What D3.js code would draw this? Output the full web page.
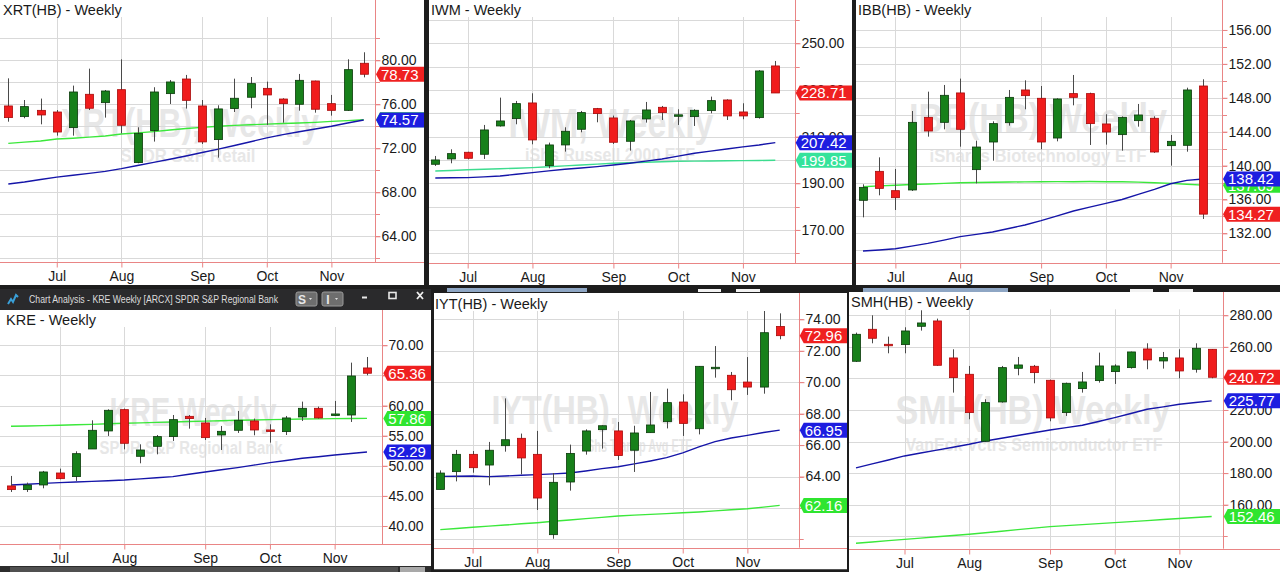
<!DOCTYPE html>
<html><head><meta charset="utf-8">
<script src="https://cdn.jsdelivr.net/npm/d3@7"></script>
<style>
html,body{margin:0;padding:0;background:#1d1d1d;}
svg{display:block;font-family:"Liberation Sans",Arial,sans-serif;}
</style>
</head><body>
<svg id="c" width="1280" height="572"></svg>
<script>
// ---------------- DATA ----------------
const monthNames = ["Jul", "Aug", "Sep", "Oct", "Nov"];
const monthIdx23 = [3, 7, 12, 16, 20];
const monthIdx22 = [2, 6, 11, 15, 19];

// [open, high, low, close]
const xrtOHLC = [
 [75.85,78.36,74.42,74.79],[74.88,76.39,74.73,75.79],[75.45,76.52,74.18,75.03],[75.30,75.48,73.15,73.48],
 [73.88,77.70,73.15,77.12],[76.91,79.24,75.48,75.64],[76.15,77.30,74.79,77.21],[77.33,80.09,73.36,74.09],
 [70.70,73.91,70.64,73.36],[73.61,77.55,72.61,77.12],[76.97,78.21,76.03,78.03],[78.30,78.67,75.61,76.36],
 [75.85,76.39,72.39,72.58],[72.79,75.91,71.15,75.58],[75.61,78.33,75.30,76.55],[76.64,78.48,75.64,77.88],
 [77.45,78.06,74.12,76.85],[76.48,76.55,74.33,76.06],[76.00,78.76,75.42,78.18],[78.12,78.15,75.24,75.55],
 [76.06,76.85,74.97,75.45],[75.45,80.09,75.39,79.15],[79.73,80.73,78.45,78.73]];
const xrtBlue = [68.76,68.94,69.16,69.38,69.55,69.72,69.9,70.15,70.44,70.72,71.0,71.3,71.62,71.92,72.25,72.6,72.95,73.24,73.5,73.76,74.0,74.3,74.57];
const xrtGreen = [72.45,72.56,72.66,72.85,72.92,73.02,73.12,73.3,73.4,73.52,73.66,73.8,73.9,74.0,74.08,74.14,74.2,74.26,74.3,74.36,74.45,74.52,74.6];

const iwmOHLC = [
 [198.14,201.71,197.43,200.0],[200.43,204.57,198.57,202.71],[203.29,203.5,200.29,200.71],[202.43,215.0,200.43,212.86],
 [214.57,226.71,214.3,216.71],[217.71,225.29,215.29,224.14],[224.43,228.57,206.71,208.57],[197.57,207.43,196.43,206.43],
 [206.43,214.0,203.57,212.29],[213.14,221.0,211.86,220.29],[222.0,222.29,216.14,219.86],[218.0,219.0,206.86,207.57],
 [208.0,217.14,204.0,216.71],[217.57,224.86,216.0,221.43],[222.57,223.14,217.14,220.29],[219.2,221.71,215.0,219.35],
 [218.57,221.71,214.57,221.29],[221.14,227.14,220.0,225.43],[225.71,226.0,217.14,218.86],[220.57,224.29,217.43,218.86],
 [218.14,238.5,217.71,238.14],[240.29,242.43,228.71,228.71]];
const iwmBlue = [192.29,192.35,192.43,192.75,193.14,193.84,194.57,195.3,196.0,196.56,197.14,197.86,198.57,199.5,200.43,201.62,202.86,203.8,204.71,205.6,206.43,207.42];
const iwmGreen = [195.29,195.5,195.78,196.0,196.25,196.46,196.71,197.1,197.44,197.84,198.2,198.57,198.8,199.0,199.22,199.43,199.5,199.58,199.64,199.7,199.78,199.85];

const ibbOHLC = [
 [135.90,137.79,133.89,137.43],[139.32,140.97,136.49,137.31],[137.04,139.60,134.76,136.21],[137.12,146.44,137.0,145.10],
 [145.69,148.72,143.41,144.08],[145.10,149.51,144.28,148.29],[148.57,150.26,142.23,144.28],[139.52,142.94,137.90,142.19],
 [142.78,145.22,140.58,144.95],[145.06,148.92,144.71,148.05],[148.92,150.06,146.64,148.25],[147.94,149.39,141.92,142.78],
 [143.25,147.94,142.86,147.86],[148.49,150.69,147.11,148.05],[148.49,148.6,142.43,144.95],[144.91,146.05,142.47,143.96],
 [143.65,145.8,141.76,145.69],[145.30,147.27,144.59,145.97],[145.58,145.81,141.5,141.60],[142.35,143.61,139.99,142.86],
 [142.39,149.19,141.64,148.92],[149.39,150.18,133.70,134.27]];
const ibbBlue = [129.92,130.04,130.19,130.5,130.82,131.2,131.61,131.88,132.16,132.58,132.99,133.5,134.07,134.64,135.1,135.54,136.0,136.6,137.2,137.85,138.25,138.42];
const ibbGreen = [137.51,137.6,137.67,137.76,137.83,137.9,137.98,138.0,138.03,138.06,138.08,138.1,138.11,138.1,138.12,138.1,138.1,138.05,137.98,137.9,137.8,137.69];

const kreOHLC = [
 [46.65,48.31,45.65,46.04],[46.04,47.20,45.65,46.81],[46.81,49.14,46.26,48.97],[48.80,49.52,47.75,47.86],
 [48.20,52.40,47.48,52.01],[52.79,57.55,52.79,55.89],[55.78,59.37,54.95,59.21],[59.32,59.49,52.73,53.73],
 [51.57,53.56,50.41,52.62],[53.23,55.11,51.90,54.84],[54.84,58.43,54.12,57.66],[58.21,58.43,56.16,57.83],
 [57.11,57.94,54.28,54.67],[55.11,56.61,52.62,55.72],[55.89,59.10,55.45,57.55],[57.44,57.83,55.06,55.94],
 [55.95,56.88,53.84,55.85],[55.67,58.27,55.11,57.94],[58.10,60.65,57.44,59.54],[59.54,59.82,57.83,57.94],
 [58.5,60.76,58.27,58.6],[58.43,67.12,57.27,64.91],[66.24,68.06,65.02,65.36]];
const kreBlue = [46.81,46.93,47.07,47.2,47.3,47.41,47.52,47.64,47.82,48.0,48.2,48.58,48.97,49.33,49.69,50.1,50.52,50.88,51.24,51.5,51.79,52.04,52.29];
const kreGreen = [56.55,56.6,56.66,56.72,56.8,56.88,56.97,57.05,57.12,57.2,57.27,57.34,57.41,57.48,57.55,57.6,57.66,57.71,57.77,57.79,57.82,57.84,57.86];

const iytOHLC = [
 [63.18,64.39,63.18,64.22],[64.31,65.69,63.69,65.41],[65.41,65.62,64.24,64.56],[64.73,66.20,63.44,65.67],
 [65.96,68.97,65.58,66.34],[66.43,66.73,64.14,65.18],[65.41,66.90,61.87,62.63],[60.30,64.22,60.04,63.63],
 [63.65,66.03,63.10,65.47],[65.62,67.00,65.39,66.90],[66.98,67.25,65.77,67.23],[66.90,67.47,65.05,65.33],
 [65.67,67.23,64.29,66.77],[66.79,69.38,66.79,67.28],[67.49,69.59,67.06,68.70],[68.74,69.23,66.58,67.38],
 [67.04,71.03,66.68,71.01],[70.9,72.30,70.29,70.95],[70.44,70.65,68.85,69.52],[70.01,71.60,69.19,69.69],
 [69.69,74.53,69.27,73.15],[73.55,74.38,72.73,72.96]];
const iytBlue = [64.01,64.02,64.03,63.99,64.03,64.08,64.12,64.17,64.22,64.35,64.5,64.62,64.8,64.99,65.2,65.5,65.88,66.22,66.45,66.62,66.8,66.95];
const iytGreen = [60.62,60.69,60.77,60.84,60.91,60.99,61.06,61.15,61.23,61.32,61.4,61.49,61.54,61.59,61.64,61.69,61.74,61.81,61.88,61.95,62.05,62.16];

const smhOHLC = [
 [250.86,269.02,250.43,267.96],[271.13,280.0,262.26,265.43],[261.63,266.48,255.92,260.78],[261.42,272.40,255.92,270.07],
 [273.03,283.17,270.29,275.14],[276.41,277.89,248.0,248.32],[252.97,258.46,231.0,240.51],[242.62,247.90,214.11,218.33],
 [200.17,226.78,199.8,224.67],[225.09,247.90,224.67,246.84],[246.42,253.60,241.99,248.53],[247.69,248.53,236.92,243.67],
 [238.82,239.2,212.84,214.95],[218.33,237.34,216.22,236.92],[233.54,244.10,231.0,237.76],[238.61,256.35,237.34,247.90],
 [244.31,248.95,236.5,247.90],[246.84,256.98,246.21,256.77],[258.67,262.26,245.79,251.70],[251.07,256.77,246.21,253.18],
 [252.97,258.46,240.08,244.73],[245.79,262.26,243.67,259.09],[258.46,258.6,240.1,240.72]];
const smhBlue = [183.27,185.8,188.33,190.87,192.72,194.57,196.42,198.27,200.38,202.12,203.86,205.6,207.35,208.8,210.3,212.7,215.16,217.8,220.44,222.0,223.61,224.7,225.77];
const smhGreen = [135.55,136.36,137.18,137.99,138.8,139.62,140.43,141.25,142.22,143.19,144.16,145.13,146.1,146.72,147.35,147.97,148.6,149.25,149.9,150.55,151.2,151.83,152.46];

// ---------------- LAYOUT ----------------
const panels = [
 {title:"XRT(HB) - Weekly", wm:"XRT(HB), Weekly", sub:"SPDR S&P Retail",
  ohlc:xrtOHLC, blue:xrtBlue, green:xrtGreen, months:monthIdx23,
  box:[0,0,424,285], top:17, bottom:262, axisX:375, yDom:[61.664,83.936],
  grid:[62,84,2], labs:[64,81,4], firstX:8.3, lastX:363.7, titleXY:[3,15],
  wmXY:[190,137,258], subXY:[188,162,135], maColor:"#3be83b", maBox:"#2fe52f"},
 {title:"IWM - Weekly", wm:"IWM, Weekly", sub:"iShs Russell 2000 ETF",
  ohlc:iwmOHLC, blue:iwmBlue, green:iwmGreen, months:monthIdx22,
  box:[429,0,423,285], top:17, bottom:263.3, axisX:794.7, yDom:[155.70,261.27],
  grid:[160,261,10], labs:[170,251,20], firstX:435.3, lastX:775.3, titleXY:[431,15],
  wmXY:[611,137,205], subXY:[610,161,170], maColor:"#3ddc8f", maBox:"#35e39b"},
 {title:"IBB(HB) - Weekly", wm:"IBB(HB) Weekly", sub:"iShares Biotechnology ETF",
  ohlc:ibbOHLC, blue:ibbBlue, green:ibbGreen, months:monthIdx22,
  box:[856,0,424,285], top:17, bottom:262.7, axisX:1222, yDom:[128.54,157.53],
  grid:[130,157,2], labs:[132,157,4], firstX:863, lastX:1203, titleXY:[858,15],
  wmXY:[1038,132,258], subXY:[1038,162,217], maColor:"#3be83b", maBox:"#2fe52f"},
 {title:"KRE - Weekly", wm:"KRE,Weekly", sub:"SPDR S&P Regional Bank",
  ohlc:kreOHLC, blue:kreBlue, green:kreGreen, months:monthIdx23,
  box:[0,310,431,256], top:327, bottom:544.3, axisX:382.3, yDom:[36.96,73.04],
  grid:[40,71,5], labs:[40,71,5], firstX:11, lastX:367, titleXY:[6,325],
  wmXY:[193,426,167], subXY:[191,454,183], maColor:"#3be83b", maBox:"#2fe52f"},
 {title:"IYT(HB) - Weekly", wm:"IYT(HB), Weekly", sub:"iShs Transp Avg ETF",
  ohlc:iytOHLC, blue:iytBlue, green:iytGreen, months:monthIdx22,
  box:[434,293,413,276.5], top:311, bottom:547.7, axisX:798.7, yDom:[59.47,74.53],
  grid:[60,75,2], labs:[62,75,2], firstX:440.3, lastX:779.7, titleXY:[435,309],
  wmXY:[615,424,247], subXY:[638,452,108], maColor:"#3be83b", maBox:"#2fe52f"},
 {title:"SMH(HB) - Weekly", wm:"SMH(HB) Weekly", sub:"VanEck Vctrs Semiconductor ETF",
  ohlc:smhOHLC, blue:smhBlue, green:smhGreen, months:monthIdx23,
  box:[849,292,431,280], top:309.3, bottom:548.7, axisX:1222.7, yDom:[132.09,283.8],
  grid:[140,281,20], labs:[160,281,20], firstX:856, lastX:1211.7, titleXY:[851,307],
  wmXY:[1033,424,275], subXY:[1034,451,257], maColor:"#3be83b", maBox:"#2fe52f"}
];

const COL = {red:"#f01c1c", redStroke:"#a80a0a", green:"#17801a", greenStroke:"#0b3a0b",
  wick:"#4a4a4a", blue:"#1515a8", blueBox:"#1d1de0", redBox:"#ef2020",
  axis:"#e98585", grid:"#d9d9d9", text:"#1a1a1a", wm:"#e7e7e7"};

const svg = d3.select("#c");
svg.append("rect").attr("width",1280).attr("height",572).attr("fill","#1d1d1d");

const defs = svg.append("defs");

panels.forEach((p, pi) => {
  const [bx, by, bw, bh] = p.box;
  const n = p.ohlc.length;
  const x = d3.scaleLinear().domain([0, n-1]).range([p.firstX, p.lastX]);
  const y = d3.scaleLinear().domain(p.yDom).range([p.bottom, p.top]);

  defs.append("clipPath").attr("id","clipP"+pi).append("rect").attr("x",bx).attr("y",by).attr("width",bw).attr("height",bh);
  defs.append("clipPath").attr("id","clipA"+pi).append("rect").attr("x",bx).attr("y",by).attr("width",p.axisX-bx).attr("height",p.bottom-by);

  const g = svg.append("g").attr("clip-path","url(#clipP"+pi+")");
  g.append("rect").attr("x",bx).attr("y",by).attr("width",bw).attr("height",bh).attr("fill","#fff");

  // watermark
  g.append("text").attr("x",p.wmXY[0]).attr("y",p.wmXY[1]).attr("text-anchor","middle")
    .attr("font-size",40).attr("font-weight","bold").attr("fill",COL.wm)
    .attr("textLength",p.wmXY[2]).attr("lengthAdjust","spacingAndGlyphs").text(p.wm);
  g.append("text").attr("x",p.subXY[0]).attr("y",p.subXY[1]).attr("text-anchor","middle")
    .attr("font-size",18).attr("font-weight","bold").attr("fill",COL.wm)
    .attr("textLength",p.subXY[2]).attr("lengthAdjust","spacingAndGlyphs").text(p.sub);

  // horizontal grid
  const gridVals = d3.range(p.grid[0], p.grid[1], p.grid[2]);
  g.selectAll("line.hg").data(gridVals).join("line").attr("class","hg")
    .attr("x1",bx).attr("x2",p.axisX).attr("y1",d=>Math.round(y(d))+0.5).attr("y2",d=>Math.round(y(d))+0.5)
    .attr("stroke",COL.grid).attr("stroke-width",1);
  // vertical month grid
  g.selectAll("line.vg").data(p.months).join("line").attr("class","vg")
    .attr("x1",d=>Math.round(x(d))+0.5).attr("x2",d=>Math.round(x(d))+0.5)
    .attr("y1",p.top).attr("y2",p.bottom).attr("stroke",COL.grid).attr("stroke-width",1);

  // axes lines
  g.append("line").attr("x1",Math.round(p.axisX)+0.5).attr("x2",Math.round(p.axisX)+0.5)
    .attr("y1",by).attr("y2",p.bottom).attr("stroke",COL.axis);
  g.append("line").attr("x1",bx).attr("x2",bx+bw).attr("y1",Math.round(p.bottom)+0.5).attr("y2",Math.round(p.bottom)+0.5)
    .attr("stroke",COL.axis);

  // right axis labels
  const ay = g.append("g").attr("transform",`translate(${Math.round(p.axisX)+0.5},0)`)
    .call(d3.axisRight(y).tickValues(d3.range(p.labs[0], p.labs[1], p.labs[2])).tickSize(5).tickPadding(1).tickFormat(d3.format(".2f")));
  ay.select(".domain").remove();
  ay.selectAll("line").attr("stroke",COL.axis);
  ay.selectAll("text").attr("font-size",14).attr("font-family","Liberation Sans, Arial, sans-serif").attr("fill",COL.text);
  // extra minor ticks for unlabeled gridlines
  g.selectAll("line.mt").data(gridVals).join("line").attr("class","mt")
    .attr("x1",p.axisX).attr("x2",p.axisX+5).attr("y1",d=>Math.round(y(d))+0.5).attr("y2",d=>Math.round(y(d))+0.5)
    .attr("stroke",COL.axis);

  // bottom axis months
  const ax = g.append("g").attr("transform",`translate(0,${Math.round(p.bottom)+0.5})`)
    .call(d3.axisBottom(x).tickValues(p.months).tickSize(5).tickPadding(4).tickFormat((d,i)=>monthNames[i]));
  ax.select(".domain").remove();
  ax.selectAll("line").attr("stroke",COL.axis);
  ax.selectAll("text").attr("font-size",14).attr("font-family","Liberation Sans, Arial, sans-serif").attr("fill",COL.text);

  // title
  g.append("text").attr("x",p.titleXY[0]).attr("y",p.titleXY[1]).attr("font-size",14.5).attr("fill",COL.text).text(p.title);

  // plot content clipped
  const pg = g.append("g").attr("clip-path","url(#clipA"+pi+")");
  const line = d3.line().x((d,i)=>x(i)).y(d=>y(d));
  pg.append("path").datum(p.green).attr("d",line).attr("fill","none").attr("stroke",p.maColor).attr("stroke-width",1.4);
  pg.append("path").datum(p.blue).attr("d",line).attr("fill","none").attr("stroke",COL.blue).attr("stroke-width",1.4);

  pg.selectAll("line.wk").data(p.ohlc).join("line").attr("class","wk")
    .attr("x1",(d,i)=>Math.round(x(i))+0.5).attr("x2",(d,i)=>Math.round(x(i))+0.5)
    .attr("y1",d=>y(d[1])).attr("y2",d=>y(d[2])).attr("stroke",COL.wick).attr("stroke-width",1);
  pg.selectAll("rect.bd").data(p.ohlc).join("rect").attr("class","bd")
    .attr("x",(d,i)=>Math.round(x(i))-3.5).attr("width",8)
    .attr("y",d=>y(Math.max(d[0],d[3])))
    .attr("height",d=>Math.max(1.5, Math.abs(y(d[0])-y(d[3]))))
    .attr("fill",d=>d[3]>=d[0]?COL.green:COL.red)
    .attr("stroke",d=>d[3]>=d[0]?COL.greenStroke:COL.redStroke).attr("stroke-width",0.8);

  // price labels: green, blue, red(close)
  const labels = [
    {v:p.green[n-1], c:p.maBox},
    {v:p.blue[n-1], c:COL.blueBox},
    {v:p.ohlc[n-1][3], c:COL.redBox}
  ];
  labels.forEach(l => {
    const yy = y(l.v), ax0 = p.axisX + 1;
    g.append("path").attr("d",`M${ax0},${yy} L${ax0+4},${yy-7.5} L${ax0+62},${yy-7.5} L${ax0+62},${yy+7.5} L${ax0+4},${yy+7.5} Z`)
      .attr("fill",l.c);
    g.append("text").attr("x",ax0+5).attr("y",yy).attr("dy","0.36em").attr("font-size",15).attr("fill","#fff").text(l.v.toFixed(2));
  });
});

// ---------- window chrome ----------
svg.append("rect").attr("x",0).attr("y",285).attr("width",1280).attr("height",4).attr("fill","#1d1d1d");
// KRE title bar
svg.append("rect").attr("x",0).attr("y",289).attr("width",431).attr("height",21).attr("fill","#2a2a2c");
svg.append("polyline").attr("points","8,304 11,299 13,302 16,295 18,297").attr("fill","none").attr("stroke","#3aa0d8").attr("stroke-width",2);
svg.append("text").attr("x",29).attr("y",303).attr("font-family","Liberation Sans Narrow, Liberation Sans, sans-serif").attr("font-size",11.5)
  .attr("fill","#dcdcdc").attr("textLength",249).attr("lengthAdjust","spacingAndGlyphs")
  .text("Chart Analysis - KRE Weekly [ARCX] SPDR S&P Regional Bank");
[[296,"S"],[322,"I"]].forEach(([bx,t]) => {
  svg.append("rect").attr("x",bx).attr("y",292).attr("width",21).attr("height",14).attr("rx",2)
    .attr("fill","#6e6e6e").attr("stroke","#9a9a9a");
  svg.append("text").attr("x",bx+6).attr("y",303.5).attr("font-size",12).attr("font-weight","bold").attr("fill","#e8e8e8").attr("text-anchor","middle").text(t);
  svg.append("path").attr("d",`M${bx+13},298 l3,0 l-1.5,2 z`).attr("fill","#e0e0e0");
});
svg.append("line").attr("x1",362).attr("x2",367).attr("y1",297.5).attr("y2",297.5).attr("stroke","#e8e8e8").attr("stroke-width",2);
svg.append("rect").attr("x",389).attr("y",292.5).attr("width",7).attr("height",6).attr("fill","none").attr("stroke","#e8e8e8").attr("stroke-width",1.6);
svg.append("path").attr("d","M417,292 L423,299 M423,292 L417,299").attr("stroke","#f0f0f0").attr("stroke-width",1.8);
// KRE bottom strip
svg.append("rect").attr("x",0).attr("y",566).attr("width",431).attr("height",6).attr("fill","#2c2c2c");
svg.append("rect").attr("x",10).attr("y",567).attr("width",388).attr("height",5).attr("fill","#505050");
svg.append("rect").attr("x",400).attr("y",567).attr("width",25).attr("height",5).attr("fill","#a9a9a9");
// IYT & SMH top strips
svg.append("rect").attr("x",434).attr("y",289).attr("width",413).attr("height",4).attr("fill","#1d1d1d");
svg.append("rect").attr("x",447).attr("y",288).attr("width",140).attr("height",4).attr("fill","#8ea6c4");
svg.append("rect").attr("x",698).attr("y",289).attr("width",23).attr("height",3).attr("fill","#f2f2f2");
svg.append("rect").attr("x",736).attr("y",289).attr("width",24).attr("height",3).attr("fill","#f2f2f2");
svg.append("rect").attr("x",863).attr("y",288).attr("width",145).attr("height",4).attr("fill","#8ea6c4");
svg.append("rect").attr("x",1130).attr("y",289).attr("width",23).attr("height",3).attr("fill","#f2f2f2");
svg.append("rect").attr("x",1169).attr("y",289).attr("width",24).attr("height",3).attr("fill","#f2f2f2");
</script>
</body></html>
